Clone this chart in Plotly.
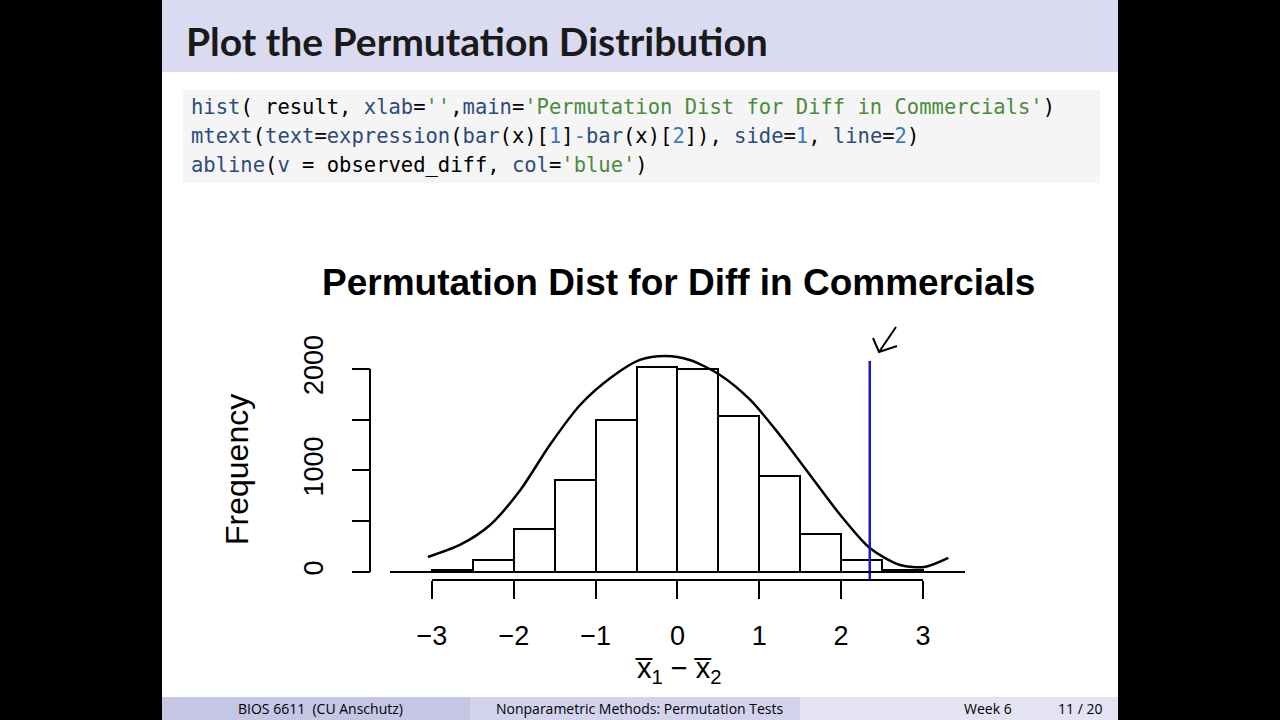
import plotly.graph_objects as go

# histogram bins (width 0.5) and counts
bin_centers = [-2.75, -2.25, -1.75, -1.25, -0.75, -0.25, 0.25, 0.75, 1.25, 1.75, 2.25, 2.75]
counts = [15, 120, 420, 910, 1500, 2020, 2000, 1540, 950, 370, 120, 20]

# hand-drawn curve over the histogram
curve_x = [-3.05, -2.66, -2.29, -1.92, -1.56, -1.19, -0.82, -0.46, -0.15, 0.15,
           0.52, 0.89, 1.25, 1.62, 1.99, 2.35, 2.72, 3.02, 3.31]
curve_y = [148, 266, 463, 808, 1251, 1645, 1911, 2089, 2128, 2089,
           1941, 1695, 1350, 956, 562, 236, 69, 49, 138]

observed_diff = 2.35
x_ticks = [-3, -2, -1, 0, 1, 2, 3]
y_ticks = [0, 500, 1000, 1500, 2000]
y_ticktext = ['0', '', '1000', '', '2000']

W, H = 1280, 720
def px(x): return x / W
def py(y): return 1 - y / H

fig = go.Figure()
fig.add_trace(go.Bar(x=bin_centers, y=counts, width=0.5,
                     marker=dict(color='white', line=dict(color='black', width=2))))
fig.add_trace(go.Scatter(x=curve_x, y=curve_y, mode='lines', line=dict(color='black', width=2.5, shape='spline', smoothing=0.8)))
fig.add_trace(go.Scatter(x=[observed_diff, observed_diff], y=[-80, 2080], mode='lines',
                         line=dict(color='#1a1ac8', width=2.5)))
# dummy trace for the detached x axis
fig.add_trace(go.Scatter(x=[-3, 3], y=[0, 0], xaxis='x2', yaxis='y', mode='markers',
                         marker=dict(opacity=0), hoverinfo='skip'))

shapes = [
    dict(type='rect', xref='paper', yref='paper', x0=0, x1=px(162), y0=0, y1=1, fillcolor='black', line_width=0, layer='below'),
    dict(type='rect', xref='paper', yref='paper', x0=px(1118), x1=1, y0=0, y1=1, fillcolor='black', line_width=0, layer='below'),
    dict(type='rect', xref='paper', yref='paper', x0=px(162), x1=px(1118), y0=py(72), y1=1, fillcolor='#dadaf0', line_width=0, layer='below'),
    dict(type='rect', xref='paper', yref='paper', x0=px(183), x1=px(1100), y0=py(183), y1=py(90), fillcolor='#f5f5f5', line_width=0, layer='below'),
    dict(type='rect', xref='paper', yref='paper', x0=px(162), x1=px(470), y0=0, y1=py(697), fillcolor='#c5c5e6', line_width=0, layer='below'),
    dict(type='rect', xref='paper', yref='paper', x0=px(470), x1=px(800), y0=0, y1=py(697), fillcolor='#d3d3ee', line_width=0, layer='below'),
    dict(type='rect', xref='paper', yref='paper', x0=px(800), x1=px(1118), y0=0, y1=py(697), fillcolor='#e3e3f4', line_width=0, layer='below'),
    # hand-drawn baseline
    dict(type='line', xref='paper', yref='paper', x0=px(390), x1=px(965), y0=py(572), y1=py(572), line=dict(color='black', width=2)),
    # y axis line
    dict(type='line', xref='paper', yref='y', x0=px(370), x1=px(370), y0=0, y1=2000, line=dict(color='black', width=2)),
    # x axis line
    dict(type='line', xref='x2', yref='paper', x0=-3, x1=3, y0=py(580), y1=py(580), line=dict(color='black', width=2)),
    # check-mark arrow
    dict(type='path', xref='paper', yref='paper',
         path=f'M {px(896)} {py(327)} L {px(879)} {py(352)} M {px(873)} {py(338)} L {px(879)} {py(352)} L {px(897)} {py(346)}',
         line=dict(color='black', width=2)),
]

NAVY = '#2c4c7c'
NUM = '#3d7ab8'
STR = '#4b8b3b'
def c(t, col): return f'<span style="color:{col}">{t}</span>'
code_lines = [
    c('hist', NAVY) + '( result, ' + c('xlab', NAVY) + '=' + c("''", STR) + ',' + c('main', NAVY) + '=' + c("'Permutation Dist for Diff in Commercials'", STR) + ')',
    c('mtext', NAVY) + '(' + c('text', NAVY) + '=' + c('expression', NAVY) + '(' + c('bar', NAVY) + '(x)[' + c('1', NUM) + ']' + c('-', NUM) + c('bar', NAVY) + '(x)[' + c('2', NUM) + ']), ' + c('side', NAVY) + '=' + c('1', NUM) + ', ' + c('line', NAVY) + '=' + c('2', NUM) + ')',
    c('abline', NAVY) + '(' + c('v', NAVY) + ' = observed_diff, ' + c('col', NAVY) + '=' + c("'blue'", STR) + ')',
]

ann = [
    dict(text='<b>Plot the Permutation Distribution</b>', x=px(184), y=py(41), xanchor='left', yanchor='middle',
         font=dict(family='Lato', size=39, color='#1a1a1a')),
    dict(text='<b>Permutation Dist for Diff in Commercials</b>', x=px(678), y=py(283), xanchor='center', yanchor='middle',
         font=dict(family='Liberation Sans', size=37, color='black')),
    dict(text='Frequency', x=px(237), y=py(470), textangle=-90, xanchor='center', yanchor='middle',
         font=dict(family='Liberation Sans', size=32, color='black')),
    dict(text='x\u0305<sub>1</sub> \u2212 x\u0305<sub>2</sub>', x=px(678), y=py(670), xanchor='center', yanchor='middle',
         font=dict(family='Liberation Sans', size=29, color='black')),
    dict(text='BIOS 6611  (CU Anschutz)', x=px(320), y=py(708), xanchor='center', yanchor='middle',
         font=dict(family='Open Sans', size=14, color='black')),
    dict(text='Nonparametric Methods: Permutation Tests', x=px(640), y=py(708), xanchor='center', yanchor='middle',
         font=dict(family='Open Sans', size=14, color='black')),
    dict(text='Week 6', x=px(988), y=py(708), xanchor='center', yanchor='middle',
         font=dict(family='Open Sans', size=14, color='black')),
    dict(text='11 / 20', x=px(1080), y=py(708), xanchor='center', yanchor='middle',
         font=dict(family='Open Sans', size=14, color='black')),
]
for i, line in enumerate(code_lines):
    ann.append(dict(text=line, x=px(189), y=py(107 + 29 * i), xanchor='left', yanchor='middle',
                    font=dict(family='DejaVu Sans Mono', size=20.5, color='black')))
for a in ann:
    a.update(xref='paper', yref='paper', showarrow=False)

fig.update_layout(
    width=W, height=H, margin=dict(l=0, r=0, t=0, b=0),
    paper_bgcolor='white', plot_bgcolor='rgba(0,0,0,0)', showlegend=False,
    bargap=0,
    xaxis=dict(domain=[px(390), px(965)], range=[-3.513, 3.514], visible=False),
    xaxis2=dict(overlaying='x', range=[-3.513, 3.514], anchor='free', position=py(580),
                tickvals=x_ticks, ticktext=['\u22123', '\u22122', '\u22121', '0', '1', '2', '3'],
                ticks='outside', ticklen=18, tickwidth=2, tickcolor='black', showline=False, showgrid=False,
                zeroline=False, ticklabelstandoff=14, tickfont=dict(family='Liberation Sans', size=27, color='black')),
    yaxis=dict(domain=[py(600), py(330)], range=[-276, 2384], anchor='free', position=px(370),
               tickvals=y_ticks, ticktext=y_ticktext, tickangle=-90, ticks='outside', ticklen=18, tickwidth=2,
               tickcolor='black', showline=False, showgrid=False, zeroline=False, ticklabelstandoff=18,
               tickfont=dict(family='Liberation Sans', size=27, color='black')),
    shapes=shapes, annotations=ann,
)
fig.write_html('out.html', config={'displayModeBar': False},
               post_script="document.body.style.margin='0';document.body.style.overflow='hidden';")
